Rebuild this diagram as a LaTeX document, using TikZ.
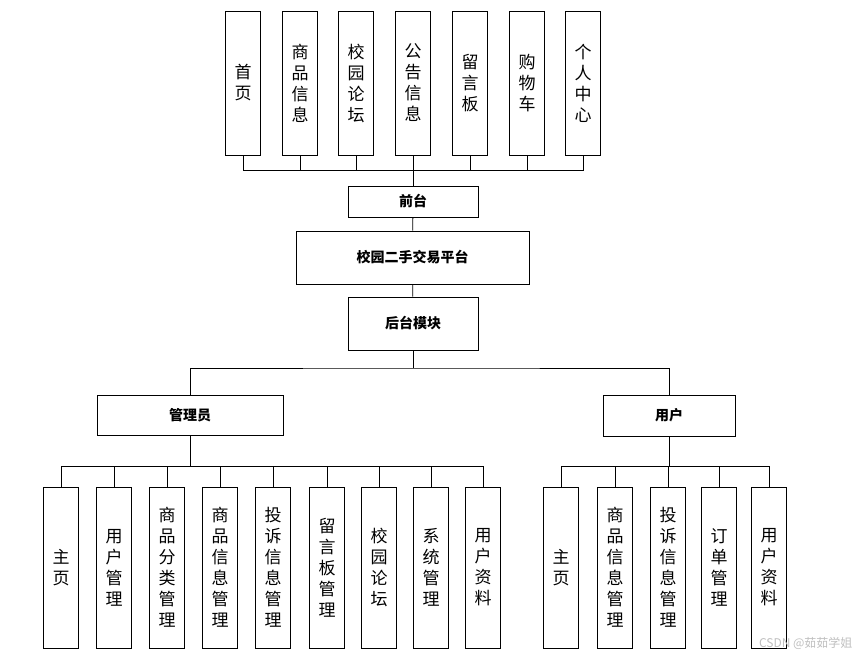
\documentclass[tikz,border=0pt]{standalone}
\usepackage{fontspec}
\newfontfamily\cjk{Noto Sans CJK SC}
\begin{document}
\begin{tikzpicture}[x=1pt,y=-1pt,
 bx/.style={draw,thick,fill=white,inner sep=0pt,font=\cjk\fontsize{17}{21}\selectfont},
 vb/.style={bx,minimum width=35pt,align=center},
 hb/.style={bx,font=\cjk\bfseries\fontsize{14}{17}\selectfont},
 ln/.style={draw,thick}]
\useasboundingbox (0,0) rectangle (859,659);
% top
\foreach \n/\x/\t in {t1/243/首\\页, t2/300/商\\品\\信\\息, t3/356/校\\园\\论\\坛, t4/413/公\\告\\信\\息, t5/470/留\\言\\板, t6/527/购\\物\\车, t7/583/个\\人\\中\\心}
  \node[vb,minimum height=144pt] (\n) at (\x,83) {\t};
\node[hb,minimum width=130pt,minimum height=31pt] (qt) at (413,201.5) {前台};
\node[hb,minimum width=233pt,minimum height=53pt] (pt) at (412.5,257.5) {校园二手交易平台};
\node[hb,minimum width=130pt,minimum height=53pt] (ht) at (413,323.5) {后台模块};
\node[hb,minimum width=186pt,minimum height=40pt] (gl) at (190,415) {管理员};
\node[hb,minimum width=132pt,minimum height=41pt] (yh) at (669,415.5) {用户};
\coordinate (tb) at (413,170);
\foreach \n in {t1,t2,t3,t4,t5,t6,t7} \draw[ln] (\n.south) |- (tb);
\draw[ln] (t1.south) ++(0,15) -- ++(340,0);
\draw[ln] (tb) -- (qt.north);
\draw[ln] (qt) -- (pt);
\draw[ln] (pt) -- (ht);
\coordinate (hb) at (413,368);
\draw[ln] (ht.south) -- (hb);
\draw[ln] (gl.north) |- (hb) -| (yh.north);
% admin children
\foreach \n/\x/\t in {a1/61/主\\页, a2/114/用\\户\\管\\理, a3/167/商\\品\\分\\类\\管\\理, a4/220/商\\品\\信\\息\\管\\理, a5/273/投\\诉\\信\\息\\管\\理, a6/327/留\\言\\板\\管\\理, a7/379/校\\园\\论\\坛, a8/431/系\\统\\管\\理, a9/483/用\\户\\资\\料}
  {\node[vb,minimum height=161pt] (\n) at (\x,567.5) {\t};
   \draw[ln] (\n.north) -- (\x,466);}
\draw[ln] (a1.north|-0,466) -- (a9.north|-0,466);
\draw[ln] (gl.south) -- (190,466);
\foreach \n/\x/\t in {u1/561/主\\页, u2/615/商\\品\\信\\息\\管\\理, u3/668/投\\诉\\信\\息\\管\\理, u4/719/订\\单\\管\\理, u5/769/用\\户\\资\\料}
  {\node[vb,minimum height=161pt] (\n) at (\x,567.5) {\t};
   \draw[ln] (\n.north) -- (\x,466);}
\draw[ln] (u1.north|-0,466) -- (u5.north|-0,466);
\draw[ln] (yh.south) -- (669,466);
\node[font=\cjk\fontsize{12}{14}\selectfont,text=gray!50,anchor=east] (wm) at (856,643) {CSDN @茹茹学姐};
\end{tikzpicture}
\end{document}
